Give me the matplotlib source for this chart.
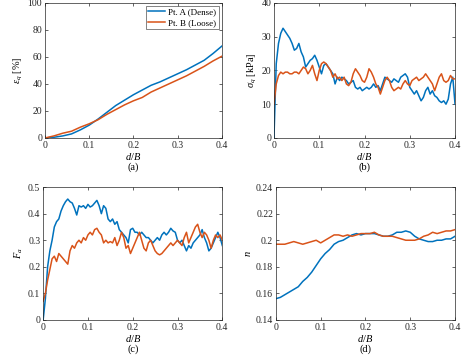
import numpy as np
import matplotlib
matplotlib.use("Agg")
import matplotlib.pyplot as plt

plt.rcParams["font.family"] = ["Liberation Serif", "DejaVu Serif"]
plt.rcParams["mathtext.fontset"] = "custom"
plt.rcParams["mathtext.rm"] = "Liberation Serif"
plt.rcParams["mathtext.it"] = "Liberation Serif:italic"

BLUE = "#0072BD"
ORANGE = "#D95319"

# (a) shear strain, step 0.02
x_a = np.round(np.arange(0, 0.4001, 0.02), 3)
eps_dense = [0, 0.5, 1.5, 3, 6, 9.5, 14, 19, 24, 28, 32, 35.5, 39, 41.5, 44.5,
             47.5, 50.5, 54, 57.5, 62.5, 68]
eps_loose = [0, 1.5, 3.5, 5, 8, 10.5, 13.5, 17.5, 21, 24.5, 27.5, 30, 34, 37,
             40, 43, 46, 49.5, 53, 57, 60.5]

# (b) and (c), step 0.005
x_bc = np.round(np.arange(0, 0.4001, 0.005), 3)
sig_dense = [0, 22, 28, 31, 32.5, 31.5, 30.5, 29.5, 28, 26, 26.5, 28, 25.5, 24,
             21, 22, 23, 23.5, 24.5, 23, 21, 19, 21.5, 22, 21, 20, 19, 16, 18,
             17, 18, 17.5, 17, 16, 16.5, 17, 15, 14.5, 15, 14, 14.5, 15, 14.5,
             15, 16, 15, 15.5, 14, 16, 18, 17.5, 17, 16.5, 17.5, 17, 16.5, 18,
             18.5, 19, 18, 15, 14, 13, 14, 12.5, 11, 12, 14, 15, 13, 14, 12.5,
             12, 11, 10.5, 11, 10, 11.5, 16, 18, 10]
sig_loose = [10, 16, 18.5, 19.5, 19, 19.5, 19.5, 19, 19, 19.5, 19.5, 19, 20,
             21, 20.5, 19, 20, 21.5, 19, 17, 20, 22, 22.5, 22, 21, 20, 18, 19,
             17.5, 18, 17, 18, 16, 15.5, 16.5, 19, 20.5, 19.5, 18.5, 17, 16.5,
             18, 20.5, 19.5, 18, 16, 15, 13, 15, 17, 18, 17, 15, 14, 14.5, 15,
             14.5, 16, 17, 16, 15.5, 17, 17.5, 18, 17, 17.5, 18, 19, 18, 17, 16,
             14, 16, 18, 19, 17, 16.5, 17, 18.5, 17.5, 17.5]

fa_dense = [0, 0.08, 0.2, 0.26, 0.3, 0.35, 0.37, 0.38, 0.41, 0.43, 0.445,
            0.455, 0.445, 0.44, 0.42, 0.395, 0.43, 0.425, 0.43, 0.42, 0.435,
            0.425, 0.43, 0.44, 0.45, 0.43, 0.40, 0.43, 0.42, 0.38, 0.37, 0.38,
            0.36, 0.37, 0.34, 0.33, 0.32, 0.31, 0.29, 0.34, 0.345, 0.33, 0.33,
            0.32, 0.33, 0.32, 0.31, 0.31, 0.30, 0.29, 0.30, 0.31, 0.30, 0.32,
            0.33, 0.32, 0.33, 0.345, 0.335, 0.33, 0.30, 0.29, 0.30, 0.28, 0.26,
            0.28, 0.27, 0.29, 0.30, 0.31, 0.32, 0.34, 0.31, 0.29, 0.26, 0.27,
            0.29, 0.31, 0.33, 0.31, 0.28]
fa_loose = [0.07, 0.10, 0.15, 0.19, 0.23, 0.24, 0.22, 0.25, 0.24, 0.23, 0.22,
            0.21, 0.26, 0.28, 0.27, 0.29, 0.30, 0.29, 0.31, 0.30, 0.32, 0.33,
            0.32, 0.34, 0.345, 0.33, 0.32, 0.29, 0.30, 0.29, 0.295, 0.29, 0.31,
            0.28, 0.30, 0.33, 0.31, 0.27, 0.28, 0.25, 0.27, 0.29, 0.31, 0.33,
            0.30, 0.27, 0.26, 0.29, 0.30, 0.28, 0.26, 0.25, 0.245, 0.25, 0.26,
            0.27, 0.28, 0.29, 0.28, 0.29, 0.30, 0.29, 0.28, 0.31, 0.33, 0.29,
            0.31, 0.33, 0.35, 0.36, 0.33, 0.31, 0.33, 0.32, 0.30, 0.27, 0.30,
            0.32, 0.31, 0.32, 0.30]

# (d) porosity, step 0.01
x_d = np.round(np.arange(0, 0.4001, 0.01), 3)
n_dense = [0.156, 0.157, 0.159, 0.161, 0.163, 0.165, 0.169, 0.172, 0.176,
           0.181, 0.186, 0.190, 0.193, 0.197, 0.199, 0.200, 0.202, 0.204,
           0.205, 0.204, 0.205, 0.205, 0.205, 0.204, 0.203, 0.203, 0.204,
           0.206, 0.206, 0.207, 0.206, 0.203, 0.201, 0.200, 0.199, 0.199,
           0.200, 0.200, 0.201, 0.201, 0.203]
n_loose = [0.197, 0.197, 0.197, 0.198, 0.199, 0.198, 0.197, 0.198, 0.199,
           0.200, 0.198, 0.200, 0.202, 0.204, 0.204, 0.203, 0.204, 0.203,
           0.204, 0.205, 0.205, 0.205, 0.206, 0.204, 0.203, 0.203, 0.203,
           0.202, 0.201, 0.200, 0.200, 0.200, 0.201, 0.203, 0.204, 0.206,
           0.205, 0.206, 0.207, 0.207, 0.208]

fig = plt.figure(figsize=(4.74, 3.64), dpi=100)
ax_a = fig.add_axes([0.095, 0.621, 0.373, 0.371])
ax_b = fig.add_axes([0.578, 0.621, 0.382, 0.371])
ax_c = fig.add_axes([0.091, 0.121, 0.378, 0.365])
ax_d = fig.add_axes([0.582, 0.121, 0.378, 0.365])

ax_a.plot(x_a, eps_dense, color=BLUE, lw=1.1, label="Pt. A (Dense)")
ax_a.plot(x_a, eps_loose, color=ORANGE, lw=1.1, label="Pt. B (Loose)")
ax_b.plot(x_bc, sig_dense, color=BLUE, lw=1.1)
ax_b.plot(x_bc, sig_loose, color=ORANGE, lw=1.1)
ax_c.plot(x_bc, fa_dense, color=BLUE, lw=1.1)
ax_c.plot(x_bc, fa_loose, color=ORANGE, lw=1.1)
ax_d.plot(x_d, n_dense, color=BLUE, lw=1.1)
ax_d.plot(x_d, n_loose, color=ORANGE, lw=1.1)

ax_a.set_ylim(0, 100)
ax_a.set_yticks([0, 20, 40, 60, 80, 100])
ax_b.set_ylim(0, 40)
ax_b.set_yticks([0, 10, 20, 30, 40])
ax_c.set_ylim(0, 0.5)
ax_c.set_yticks([0, 0.1, 0.2, 0.3, 0.4, 0.5])
ax_c.set_yticklabels(["0", "0.1", "0.2", "0.3", "0.4", "0.5"])
ax_d.set_ylim(0.14, 0.24)
ax_d.set_yticks([0.14, 0.16, 0.18, 0.2, 0.22, 0.24])
ax_d.set_yticklabels(["0.14", "0.16", "0.18", "0.2", "0.22", "0.24"])

ax_a.set_ylabel(r"$\epsilon_q$ [%]", fontsize=7.5, labelpad=2)
ax_b.set_ylabel(r"$\sigma_q$ [kPa]", fontsize=7.5, labelpad=2)
ax_c.set_ylabel(r"$F_a$", fontsize=7.5, labelpad=2)
ax_d.set_ylabel(r"$n$", fontsize=7.5, labelpad=2)

for ax, tag in zip([ax_a, ax_b, ax_c, ax_d], ["(a)", "(b)", "(c)", "(d)"]):
    ax.set_xlim(0, 0.4)
    ax.set_xticks([0, 0.1, 0.2, 0.3, 0.4])
    ax.set_xticklabels(["0", "0.1", "0.2", "0.3", "0.4"])
    ax.tick_params(direction="in", top=True, right=True, length=2.5,
                   width=0.5, labelsize=7, colors="#262626", pad=2)
    for s in ax.spines.values():
        s.set_linewidth(0.5)
        s.set_color("#262626")
    ax.set_xlabel(r"$d/B$" + "\n" + tag, fontsize=7.5, labelpad=1,
                  linespacing=1.05)

leg = ax_a.legend(loc="upper right", fontsize=6.5, frameon=True, fancybox=False,
                  edgecolor="#262626", handlelength=1.8, borderpad=0.3,
                  labelspacing=0.2, handletextpad=0.4, borderaxespad=0.3)
leg.get_frame().set_linewidth(0.5)

fig.savefig("out.png", dpi=100)
